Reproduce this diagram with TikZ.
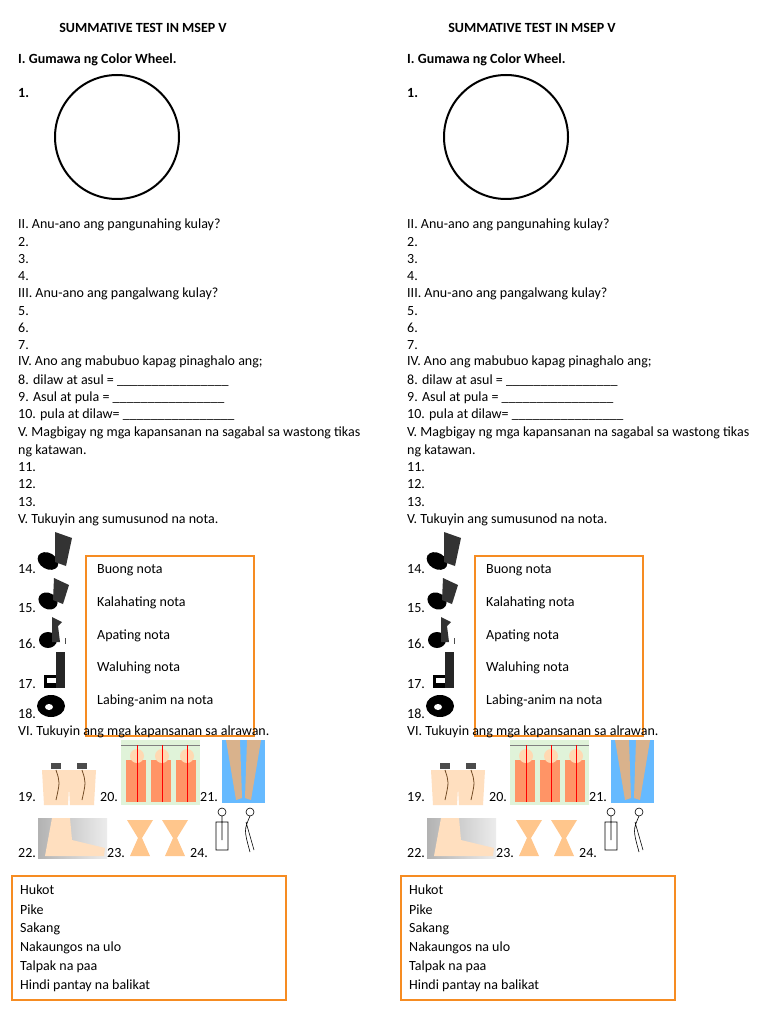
\documentclass[tikz,border=0pt]{standalone}
\usepackage{fontspec}
\setmainfont{Carlito}
\begin{document}
\begin{tikzpicture}[x=1pt,y=-1pt,
  txt/.style={anchor=west,inner sep=0pt,font=\fontsize{14}{16}\selectfont},
  btxt/.style={txt,font=\fontsize{14}{16}\selectfont\bfseries},
  obox/.style={draw=orange!85!brown!90,line width=1.6pt},
  blob/.style={fill=black},
  skin/.style={fill=orange!30!white,draw=brown!60,line width=0.4pt}]
\useasboundingbox (0,0) rectangle (768,1024);
\fill[white] (0,0) rectangle (768,1024);
\foreach \o/\s in {0/L,389/R}{
\begin{scope}[xshift=\o]
\node[btxt,anchor=center] (title\s) at (143,28) {SUMMATIVE TEST IN MSEP V};
\node[btxt] (h1\s) at (18,60) {I. Gumawa ng Color Wheel.};
\node[btxt] (n1\s) at (18,93) {1.};
\node[draw,line width=2pt,circle,minimum size=124pt,inner sep=0pt] (wheel\s) at (117,137) {};
\node[txt] (h2\s) at (18,225) {II. Anu-ano ang pangunahing kulay?};
\node[txt] at (18,242) {2.};
\node[txt] at (18,259) {3.};
\node[txt] at (18,276) {4.};
\node[txt] (h3\s) at (18,294) {III. Anu-ano ang pangalwang kulay?};
\node[txt] at (18,311) {5.};
\node[txt] at (18,328) {6.};
\node[txt] at (18,345) {7.};
\node[txt] (h4\s) at (18,362) {IV. Ano ang mabubuo kapag pinaghalo ang;};
\node[txt] at (18,381) {8. dilaw at asul = \_\_\_\_\_\_\_\_\_\_\_\_\_\_\_\_};
\node[txt] at (18,398) {9. Asul at pula = \_\_\_\_\_\_\_\_\_\_\_\_\_\_\_\_};
\node[txt] at (18,415) {10. pula at dilaw= \_\_\_\_\_\_\_\_\_\_\_\_\_\_\_\_};
\node[txt] (h5\s) at (18,433) {V. Magbigay ng mga kapansanan na sagabal sa wastong tikas};
\node[txt] at (18,451) {ng katawan.};
\node[txt] at (18,467) {11.};
\node[txt] at (18,484) {12.};
\node[txt] at (18,502) {13.};
\node[txt] (h6\s) at (18,520) {V. Tukuyin ang sumusunod na nota.};
\node[txt] at (18,569) {14.};
\node[txt] at (18,608) {15.};
\node[txt] at (18,644) {16.};
\node[txt] at (18,684) {17.};
\node[txt] at (18,714) {18.};
% notes
\fill[blob,rotate around={-30:(48,561)}] (48,561) ellipse (11 and 8);
\fill[black!80] (55,532) -- (72,538) -- (66,566) -- (55,562) -- cycle;
\fill[blob,rotate around={-30:(48,601)}] (48,601) ellipse (10 and 8);
\fill[black!80] (54,578) -- (69,585) -- (63,604) -- (53,600) -- cycle;
\fill[blob] (48,640) ellipse (9 and 8);
\fill[black!80] (52,617) -- (62,622) -- (58,626) -- (60,642) -- (52,642) -- cycle;
\draw[black!70] (65,638) -- (65,644);
\fill[blob] (44,675) rectangle (64,688);
\fill[white] (47,678) rectangle (56,683);
\fill[black!85] (56,652) rectangle (65,688);
\fill[blob] (51,706) ellipse (14 and 11);
\fill[white] (49,707) ellipse (4 and 3);
\draw[obox] (86,556) rectangle (254,736);
\node[txt] (b1\s) at (97,570) {Buong nota};
\node[txt] (b2\s) at (97,603) {Kalahating nota};
\node[txt] (b3\s) at (97,636) {Apating nota};
\node[txt] (b4\s) at (97,668) {Waluhing nota};
\node[txt] (b5\s) at (97,701) {Labing-anim na nota};
\node[txt] (h7\s) at (18,732) {VI. Tukuyin ang mga kapansanan sa alrawan.};
% pictures
\node[txt] at (18,797) {19.};
\foreach \cx in {56,82}{
 \fill[orange!25] (\cx-14,770) -- (\cx+14,770) -- (\cx+12,805) -- (\cx-12,805) -- cycle;
 \fill[black!70] (\cx-5,763) rectangle (\cx+5,769);
 \draw[brown!60!black,line width=0.8pt] (\cx,770) .. controls (\cx+4,782) .. (\cx,800);}
\node[txt] at (100,797) {20.};
\fill[yellow!20!green!15] (121,740) rectangle (200,805);
\draw[gray] (121,745) -- (200,745);
\foreach \cx in {137,162,187}{
 \fill[orange!60!red!60] (\cx-11,760) rectangle (\cx+9,802);
 \fill[orange!30] (\cx,756) circle (7);
 \draw[red,line width=1pt] (\cx,745) -- (\cx,802);}
\node[txt] at (200,797) {21.};
\fill[blue!45!cyan!60] (222,740) rectangle (265,803);
\fill[brown!60] (226,740) -- (240,740) -- (242,798) -- (236,800) -- cycle;
\fill[brown!60] (247,740) -- (261,740) -- (251,800) -- (245,798) -- cycle;
\node[txt] at (18,853) {22.};
\shade[left color=gray!60,right color=gray!15] (38,818) rectangle (107,858);
\fill[orange!25] (52,818) -- (70,818) -- (72,840) -- (105,848) -- (104,856) -- (45,856) -- cycle;
\node[txt] at (107,853) {23.};
\foreach \cx in {140,175}{
 \fill[orange!45] (\cx-13,820) -- (\cx+13,820) -- (\cx+2,838) -- (\cx+10,856) -- (\cx-10,856) -- (\cx-2,838) -- cycle;}
\node[txt] at (190,853) {24.};
\draw[line width=0.6pt] (222,812) circle (4) (222,816) -- (222,840) (216,822) rectangle (228,850);
\draw[line width=0.6pt] (250,812) circle (4) (250,816) .. controls (244,830) .. (250,852) (246,822) -- (254,850);
% bottom box
\draw[obox] (12,876) rectangle (286,1000);
\node[txt] (c1\s) at (20,890) {Hukot};
\node[txt] (c2\s) at (20,910) {Pike};
\node[txt] (c3\s) at (20,929) {Sakang};
\node[txt] (c4\s) at (20,948) {Nakaungos na ulo};
\node[txt] (c5\s) at (20,967) {Talpak na paa};
\node[txt] (c6\s) at (20,986) {Hindi pantay na balikat};
\end{scope}}
\end{tikzpicture}
\end{document}
